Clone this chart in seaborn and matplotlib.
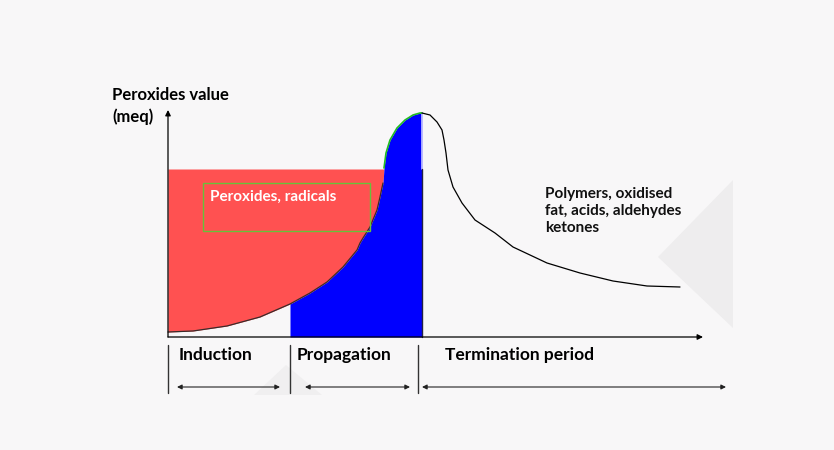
import numpy as np
import pandas as pd
import matplotlib
matplotlib.use("Agg")
import matplotlib.pyplot as plt
from matplotlib.patches import Rectangle, Polygon
import seaborn as sns

# oxidation curve: time (a.u.) vs peroxide value (a.u.), origin where the axes cross
rise_t = [0, 25, 59, 92, 122, 142, 159, 175, 189, 192, 195, 202, 209, 212, 215, 216,
          218, 222, 229, 237, 245, 252, 254]
rise_v = [5, 6, 11, 20, 33, 44, 55, 70, 87, 94, 99, 110, 127, 140, 154, 169,
          184, 197, 209, 217, 222, 224, 224]
fall_t = [254, 262, 269, 274, 276, 278, 280, 285, 294, 307, 327, 345, 379, 412, 445, 479, 512]
fall_v = [224, 222, 215, 207, 197, 184, 167, 150, 134, 117, 104, 90, 74, 64, 56, 51, 50]

radical_level = 168
prop_start = 122
prop_end = 254

phase_names = ["Induction", "Propagation", "Termination period"]
phase_bounds = [0, 122, 250]
phase_spans = [(9, 112), (137, 242), (254, 558)]

rise = pd.DataFrame({"t": rise_t, "v": rise_v})
fall = pd.DataFrame({"t": fall_t, "v": fall_v})

sns.set_theme(style="white")
plt.rcParams['font.family'] = ['Lato', 'DejaVu Sans']

bg = "#f8f7f8"
fig = plt.figure(figsize=(8.34, 4.5), dpi=100, facecolor=bg)
ax = fig.add_axes([0, 0, 1, 1])
ax.set_facecolor(bg)
ax.set_xlim(-168, 666)
ax.set_ylim(-113, 337)
ax.axis("off")

# faint watermark shapes
ax.add_patch(Polygon([(490, 80), (565, 157), (565, 9)], closed=True,
                     fc="#eeedee", ec="none", zorder=0))
ax.add_patch(Polygon([(86, -58), (118, -28), (154, -58)], closed=True,
                     fc="#f0eff0", ec="none", zorder=0))

# red area: peroxides/radicals above the curve
red = rise[rise.t <= 216]
ax.fill_between(red.t, red.v, radical_level, color="#ff5151", lw=0, zorder=1)

# blue area: propagation under the curve
blue = rise[rise.t >= prop_start]
ax.fill_between(blue.t, 0, blue.v, color="#0000ff", lw=0, zorder=2)
ax.plot([prop_end, prop_end], [radical_level, 224], color="#c8c8ff", lw=1.2, zorder=2)
ax.plot([prop_end, prop_end], [0, radical_level], color="#222244", lw=1.0, zorder=2)

sns.lineplot(data=rise[rise.t <= 215], x="t", y="v", sort=False, ax=ax,
             color="#3a2a2a", lw=0.9, zorder=3)
sns.lineplot(data=rise[rise.t >= 216], x="t", y="v", sort=False, ax=ax,
             color="#22bb22", lw=1.2, zorder=3)
sns.lineplot(data=fall, x="t", y="v", sort=False, ax=ax,
             color="black", lw=0.9, zorder=3)

# axes with arrows
arrow = dict(arrowstyle="-|>", color="black", lw=0.9, mutation_scale=8,
             shrinkA=0, shrinkB=0)
ax.annotate("", xy=(0, 227), xytext=(0, 0), arrowprops=arrow, zorder=4)
ax.annotate("", xy=(535, 0), xytext=(0, 0), arrowprops=arrow, zorder=4)

ax.text(-56, 231, "Peroxides value\n(meq)", fontsize=12, fontweight="bold",
        color="black", va="center", ha="left", linespacing=1.35)

ax.add_patch(Rectangle((35, 106), 167, 48, fill=False, ec="#66c23a", lw=1.0, zorder=4))
ax.text(42, 140, "Peroxides, radicals", fontsize=11, fontweight="bold",
        color="white", va="center", ha="left", zorder=5)

ax.text(377, 126, "Polymers, oxidised\nfat, acids, aldehydes\nketones", fontsize=11,
        fontweight="bold", color="#111111", va="center", ha="left", linespacing=1.3)

# phases under the time axis
for b in phase_bounds:
    ax.plot([b, b], [-8, -56], color="#333333", lw=1.0)
label_x = [11, 129, 277]
for name, lx in zip(phase_names, label_x):
    ax.text(lx, -18, name, fontsize=12.5, fontweight="bold", color="black",
            va="center", ha="left")
two_way = dict(arrowstyle="<|-|>", color="#222222", lw=0.8, mutation_scale=7,
               shrinkA=0, shrinkB=0)
for a, b in phase_spans:
    ax.annotate("", xy=(b, -50), xytext=(a, -50), arrowprops=two_way)

fig.savefig("out.png", dpi=100, facecolor=bg)
